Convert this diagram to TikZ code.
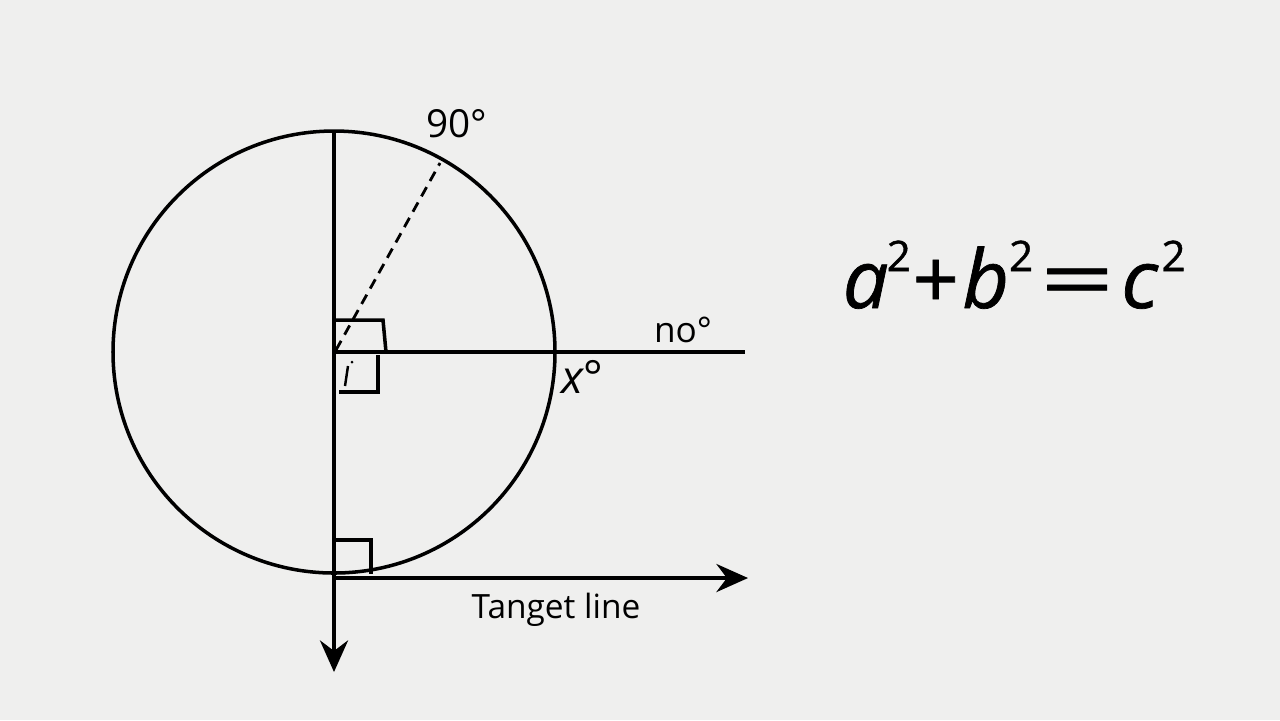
\documentclass[tikz,border=0pt]{standalone}
\usepackage{fontspec}
\setmainfont{Open Sans}
\usetikzlibrary{arrows.meta}
\definecolor{paper}{RGB}{239,239,238}
\newcommand{\sqtwo}{\raisebox{10.5pt}{\fontsize{12}{12}\selectfont\upshape 2}}

\begin{document}
\begin{tikzpicture}[x=0.01cm, y=-0.01cm, line width=1pt,
    lbl/.style={inner sep=0pt, anchor=base},
    tip/.style={-{Stealth[length=9pt, width=8pt, inset=3pt]}}]
        % Background and fixed frame
        \fill[paper] (0, 0) rectangle (1280, 720);
        \useasboundingbox (0, 0) rectangle (1280, 720);
        % Points of the figure
        \coordinate (O) at (334, 352);
        \coordinate (top) at (334, 131);
        \coordinate (down) at (334, 672);
        \coordinate (rim) at (745, 352);
        \coordinate (T) at (334, 578);
        \coordinate (tanend) at (748, 578);
        \coordinate (dash) at (440, 163);
        % Draw the circle
        \draw (O) circle (221);
        % Draw the diameter, the radius and the tangent
        \draw[tip] (top) -- (down);
        \draw (O) -- (rim);
        \draw[tip] (T) -- (tanend);
        \draw[line width=0.8pt, dash pattern=on 3pt off 2pt] (336, 350) -- (dash);
        % Right angle marks
        \draw (334, 320) -- (383, 320) -- (386, 352);
        \draw (339, 392) -- (378, 392) -- (378, 355);
        \draw[line width=0.7pt] (345, 386) -- (348, 366);
        \fill (352, 362) circle (1.5);
        \draw (334, 540) -- (371, 540) -- (371, 574);
        % Labels
        \node[lbl, font=\fontsize{11}{13}\selectfont] (deg) at (457, 137) {90°};
        \node[lbl, font=\fontsize{10}{12}\selectfont] (no) at (683, 342) {no°};
        \node[lbl, font=\fontsize{13}{15}\selectfont\itshape] (x) at (582, 393) {x°};
        \node[lbl, font=\fontsize{9.5}{12}\selectfont] (tan) at (556, 618) {Tanget line};
        \node[lbl, anchor=base west, font=\fontsize{23}{28}\selectfont\addfontfeature{FakeBold=0.9}] (eq) at (841, 308)
            {{\itshape a}\kern-0.5pt\sqtwo\kern0.5pt+\kern1pt{\itshape b}\sqtwo\kern2pt\scalebox{1.6}[1]{=}\kern2pt{\itshape c}\kern1pt\sqtwo};
    \end{tikzpicture}
\end{document}
